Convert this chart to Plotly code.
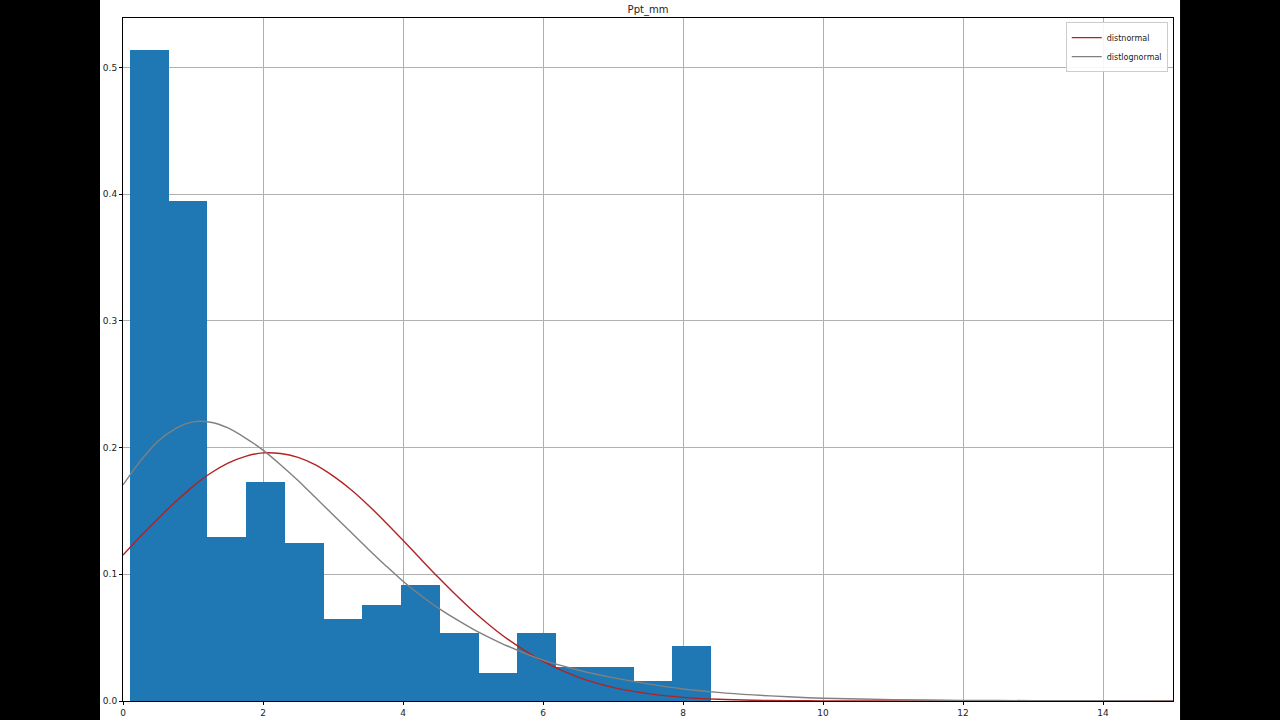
import plotly.graph_objects as go

# ---- data ----
bin_edges = [0.10, 0.653, 1.207, 1.760, 2.313, 2.867, 3.420, 3.973,
             4.527, 5.080, 5.633, 6.187, 6.740, 7.293, 7.847, 8.400]
density = [0.5136, 0.3946, 0.1297, 0.1728, 0.1245, 0.0650, 0.0755, 0.0916,
           0.0539, 0.0219, 0.0539, 0.0271, 0.0271, 0.0160, 0.0432]

curve_x = [0, 0.25, 0.5, 0.75, 1.0, 1.25, 1.5, 1.75, 2.0, 2.25, 2.5, 2.75, 3.0,
           3.25, 3.5, 3.75, 4.0, 4.25, 4.5, 4.75, 5.0, 5.25, 5.5, 6.0, 6.5,
           7.0, 7.5, 8.0, 8.5, 9.0, 9.5, 10, 11, 12, 13, 14, 15]
dist_normal = [0.1151, 0.1300, 0.1439, 0.1572, 0.1694, 0.1797, 0.1877, 0.1931,
               0.1958, 0.1953, 0.1923, 0.1864, 0.1777, 0.1671, 0.1547, 0.1411,
               0.1268, 0.1122, 0.0978, 0.0840, 0.0710, 0.0592, 0.0486, 0.0312,
               0.0189, 0.0108, 0.0058, 0.0029, 0.0014, 0.0006, 0.0003, 0.0001,
               0.0000, 0.0000, 0.0000, 0.0000, 0.0000]
dist_lognormal = [0.1705, 0.1895, 0.2050, 0.2150, 0.2203, 0.2200, 0.2155, 0.2075,
                  0.1980, 0.1865, 0.1740, 0.1605, 0.1470, 0.1335, 0.1200, 0.1070,
                  0.0945, 0.0835, 0.0735, 0.0648, 0.0568, 0.0497, 0.0432, 0.0322,
                  0.0245, 0.0184, 0.0135, 0.0095, 0.0068, 0.0048, 0.0033, 0.0022,
                  0.0011, 0.0005, 0.0003, 0.0002, 0.0001]

x_ticks = [0, 2, 4, 6, 8, 10, 12, 14]
y_ticks = [0.0, 0.1, 0.2, 0.3, 0.4, 0.5]
title_text = "Ppt_mm"

# ---- figure ----
centers = [(a + b) / 2 for a, b in zip(bin_edges[:-1], bin_edges[1:])]
widths = [b - a for a, b in zip(bin_edges[:-1], bin_edges[1:])]

fig = go.Figure()
fig.add_trace(go.Bar(x=centers, y=density, width=widths,
                     marker=dict(color="#1f77b4", line=dict(width=0)),
                     showlegend=False, hoverinfo="x+y"))
fig.add_trace(go.Scatter(x=curve_x, y=dist_normal, mode="lines",
                         line=dict(color="#b22222", width=1.4, shape="spline", smoothing=0.8),
                         name="distnormal"))
fig.add_trace(go.Scatter(x=curve_x, y=dist_lognormal, mode="lines",
                         line=dict(color="#808080", width=1.4, shape="spline", smoothing=0.8),
                         name="distlognormal"))

axis_common = dict(showgrid=True, gridcolor="#b0b0b0", gridwidth=0.8,
                   showline=True, linecolor="#000000", linewidth=1, mirror=True,
                   ticks="outside", ticklen=3, tickcolor="#000000",
                   tickfont=dict(family="DejaVu Sans", size=9, color="#222222"),
                   zeroline=False, automargin=False)

fig.update_layout(
    width=1280, height=720,
    paper_bgcolor="#000000", plot_bgcolor="#ffffff",
    margin=dict(l=123, r=107, t=18, b=19, autoexpand=False),
    bargap=0,
    title=dict(text=title_text, x=0.5, xref="paper", xanchor="center",
               y=1, yref="paper", yanchor="bottom", pad=dict(b=5),
               font=dict(family="DejaVu Sans", size=10, color="#222222")),
    xaxis=dict(range=[0, 15], tickvals=x_ticks, **axis_common),
    yaxis=dict(range=[0, 0.539], tickvals=y_ticks, tickformat=".1f", **axis_common),
    legend=dict(x=0.995, y=0.994, xanchor="right", yanchor="top",
                bgcolor="rgba(255,255,255,0.9)", bordercolor="#cccccc", borderwidth=1,
                font=dict(family="DejaVu Sans", size=8, color="#222222"),
                itemwidth=30, tracegroupgap=0),
    shapes=[dict(type="rect", xref="paper", yref="paper",
                 x0=-0.0219, x1=1.0067, y0=-0.05, y1=1.05,
                 fillcolor="#ffffff", line=dict(width=0), layer="below")],
)

fig.write_html("out.html", config={"displayModeBar": False},
               post_script="document.body.style.margin='0';document.body.style.background='#000';")
